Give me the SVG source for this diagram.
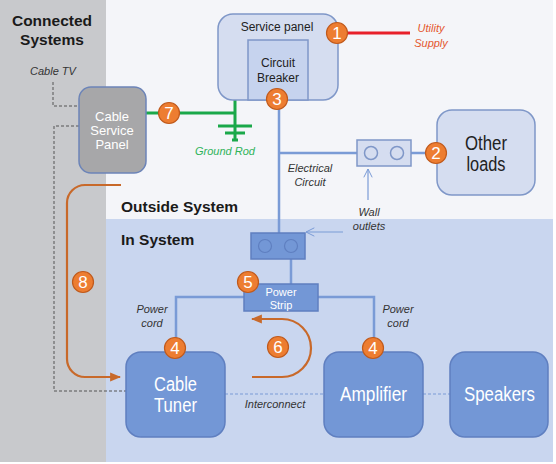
<svg xmlns="http://www.w3.org/2000/svg" width="556" height="464" viewBox="0 0 556 464">
<defs>
<marker id="orArrow" viewBox="0 0 10 10" refX="9" refY="5" markerWidth="5" markerHeight="5" orient="auto-start-reverse" markerUnits="strokeWidth">
<path d="M0,1 L10,5 L0,9 z" fill="#c8692a"/>
</marker>
<marker id="blArrow" viewBox="0 0 12 12" refX="11" refY="6" markerWidth="10" markerHeight="10" orient="auto" markerUnits="userSpaceOnUse">
<path d="M1,1 L11,6 L1,11" fill="none" stroke="#7a9bd6" stroke-width="1.2"/>
</marker>
</defs>
<style>
text{font-family:"Liberation Sans",Arial,sans-serif;}
.hd{font-weight:bold;font-size:15.5px;fill:#1a1a1a;}
.it{font-style:italic;font-size:11px;fill:#333;}
.lt{fill:#d5ddf0;stroke:#7f97c8;stroke-width:1.5;}
.dk{fill:#7397d6;stroke:#5f7fc0;stroke-width:1.5;}
.wt{fill:#fff;text-anchor:middle;}
.bk{fill:#222;text-anchor:middle;}
.big{font-size:19.5px;}
.badge circle{fill:#ed7d31;stroke:#c05a1c;stroke-width:1.2;}
.badge text{fill:#fff;font-size:17px;text-anchor:middle;}
.wire{stroke:#7a9bd6;stroke-width:2.5;fill:none;}
.gnd{stroke:#1aa84a;stroke-width:3;fill:none;}
.org{stroke:#c8692a;stroke-width:2.2;fill:none;}
.dash{stroke:#555;stroke-width:1;stroke-dasharray:3 2;fill:none;}
.bdash{stroke:#7a9bd6;stroke-width:1;stroke-dasharray:3 2;fill:none;}
</style>
<rect width="556" height="464" fill="#ffffff"/>
<rect x="0" y="0" width="553" height="462" fill="#f4f5f9"/>
<rect x="0" y="0" width="106" height="462" fill="#c8c9cc"/>
<rect x="106" y="219" width="447" height="243" fill="#c9d6ef"/>

<g id="region-labels">
<text class="hd" x="52" y="26" text-anchor="middle">Connected</text>
<text class="hd" x="52" y="45" text-anchor="middle">Systems</text>
<text class="hd" x="121" y="212">Outside System</text>
<text class="hd" x="121" y="245">In System</text>
<text class="it" x="53" y="75" text-anchor="middle">Cable TV</text>
</g>

<g id="connectors">
<path class="dash" d="M53 82 V106 H79"/>
<path class="dash" d="M79 126 H54 V391 H126"/>
<path class="gnd" d="M146 113 H235 M235 100 V140 M218 126 H252 M225 133 H245 M232 140 H238"/>
<path d="M345 33 H410" stroke="#e8202a" stroke-width="3" fill="none"/>
<path class="wire" d="M279 108 V233 M279 153 H364.5 M377.5 153 H390.5 M403.5 153 H437 M291 259 V284 M244 297 H176 V340 M318 297 H374 V340"/>
<path d="M368 200 V169" stroke="#7a9bd6" stroke-width="1.2" fill="none" marker-end="url(#blArrow)"/>
<path d="M343 232 H306" stroke="#7a9bd6" stroke-width="1.2" fill="none" marker-end="url(#blArrow)"/>
<path class="org" d="M252 377 H282 A29 29 0 0 0 282 319 H252" marker-end="url(#orArrow)"/>
<path class="org" d="M121 185 H85 A18 18 0 0 0 67 203 V359 A18 18 0 0 0 85 377 H120" marker-end="url(#orArrow)"/>
<path class="bdash" d="M225 394 H324 M423 394 H450"/>
</g>

<g id="connector-labels">
<text x="225" y="155" font-size="11" font-style="italic" fill="#2fb35a" text-anchor="middle">Ground Rod</text>
<text x="431" y="32" font-size="11" font-style="italic" fill="#e4572e" text-anchor="middle">Utility</text>
<text x="431" y="47" font-size="11" font-style="italic" fill="#e4572e" text-anchor="middle">Supply</text>
<text class="it" x="310" y="172" text-anchor="middle">Electrical</text>
<text class="it" x="310" y="186" text-anchor="middle">Circuit</text>
<text class="it" x="369" y="216" text-anchor="middle">Wall</text>
<text class="it" x="369" y="230" text-anchor="middle">outlets</text>
<text class="it" x="152" y="313" text-anchor="middle">Power</text>
<text class="it" x="152" y="327" text-anchor="middle">cord</text>
<text class="it" x="398" y="313" text-anchor="middle">Power</text>
<text class="it" x="398" y="327" text-anchor="middle">cord</text>
<text class="it" x="275" y="408" text-anchor="middle">Interconnect</text>
</g>

<g id="cable-service-panel">
<rect x="79" y="87" width="67" height="86" rx="12" fill="#a7a7a9" stroke="#6c84b8" stroke-width="1.5"/>
<text class="wt" x="112" y="121" font-size="13" fill="#f4f4f4">Cable</text>
<text class="wt" x="112" y="135" font-size="13">Service</text>
<text class="wt" x="112" y="149" font-size="13">Panel</text>
</g>

<g id="service-panel">
<rect class="lt" x="218" y="14" width="120" height="86" rx="15"/>
<text class="bk" x="277" y="31" font-size="12">Service panel</text>
</g>
<g id="circuit-breaker">
<rect x="248" y="40" width="60" height="60" fill="#c6d3ee" stroke="#7f97c8" stroke-width="1.5"/>
<text class="bk" x="278" y="67" font-size="12">Circuit</text>
<text class="bk" x="278" y="82" font-size="12">Breaker</text>
</g>

<g id="wall-outlet-outside">
<rect class="lt" x="357" y="140" width="54" height="26"/>
<circle cx="371" cy="153" r="6.5" fill="none" stroke="#7f97c8" stroke-width="1.5"/>
<circle cx="397" cy="153" r="6.5" fill="none" stroke="#7f97c8" stroke-width="1.5"/>
</g>

<g id="other-loads">
<rect class="lt" x="437" y="110" width="98" height="85" rx="15"/>
<text class="bk big" x="486" y="150" textLength="42" lengthAdjust="spacingAndGlyphs">Other</text>
<text class="bk big" x="486" y="171" textLength="39" lengthAdjust="spacingAndGlyphs">loads</text>
</g>

<g id="wall-outlet-inside">
<rect class="dk" x="251" y="233" width="54" height="26"/>
<circle cx="265" cy="246" r="6.5" fill="none" stroke="#5f7fc0" stroke-width="1.2"/>
<circle cx="291" cy="246" r="6.5" fill="none" stroke="#5f7fc0" stroke-width="1.2"/>
</g>

<g id="power-strip">
<rect class="dk" x="244" y="284" width="74" height="27"/>
<text class="wt" x="281" y="296" font-size="11">Power</text>
<text class="wt" x="281" y="309" font-size="11">Strip</text>
</g>

<g id="cable-tuner">
<rect class="dk" x="126" y="352" width="99" height="85" rx="15"/>
<text class="wt big" x="175.5" y="391" textLength="43" lengthAdjust="spacingAndGlyphs">Cable</text>
<text class="wt big" x="175.5" y="412" textLength="43" lengthAdjust="spacingAndGlyphs">Tuner</text>
</g>
<g id="amplifier">
<rect class="dk" x="324" y="352" width="99" height="85" rx="15"/>
<text class="wt big" x="373.5" y="401" textLength="67" lengthAdjust="spacingAndGlyphs">Amplifier</text>
</g>
<g id="speakers">
<rect class="dk" x="450" y="352" width="98" height="85" rx="15"/>
<text class="wt big" x="499.5" y="401" textLength="71" lengthAdjust="spacingAndGlyphs">Speakers</text>
</g>

<g id="badges" class="badge">
<g><circle cx="337" cy="33" r="10.5"/><text x="337" y="39">1</text></g>
<g><circle cx="436" cy="153" r="10.5"/><text x="436" y="159">2</text></g>
<g><circle cx="277" cy="99" r="10.5"/><text x="277" y="105">3</text></g>
<g><circle cx="175" cy="348" r="10.5"/><text x="175" y="354">4</text></g>
<g><circle cx="373" cy="348" r="10.5"/><text x="373" y="354">4</text></g>
<g><circle cx="248" cy="282" r="10.5"/><text x="248" y="288">5</text></g>
<g><circle cx="278" cy="347" r="10.5"/><text x="278" y="353">6</text></g>
<g><circle cx="169" cy="113" r="10.5"/><text x="169" y="119">7</text></g>
<g><circle cx="83" cy="282" r="10.5"/><text x="83" y="288">8</text></g>
</g>
</svg>
